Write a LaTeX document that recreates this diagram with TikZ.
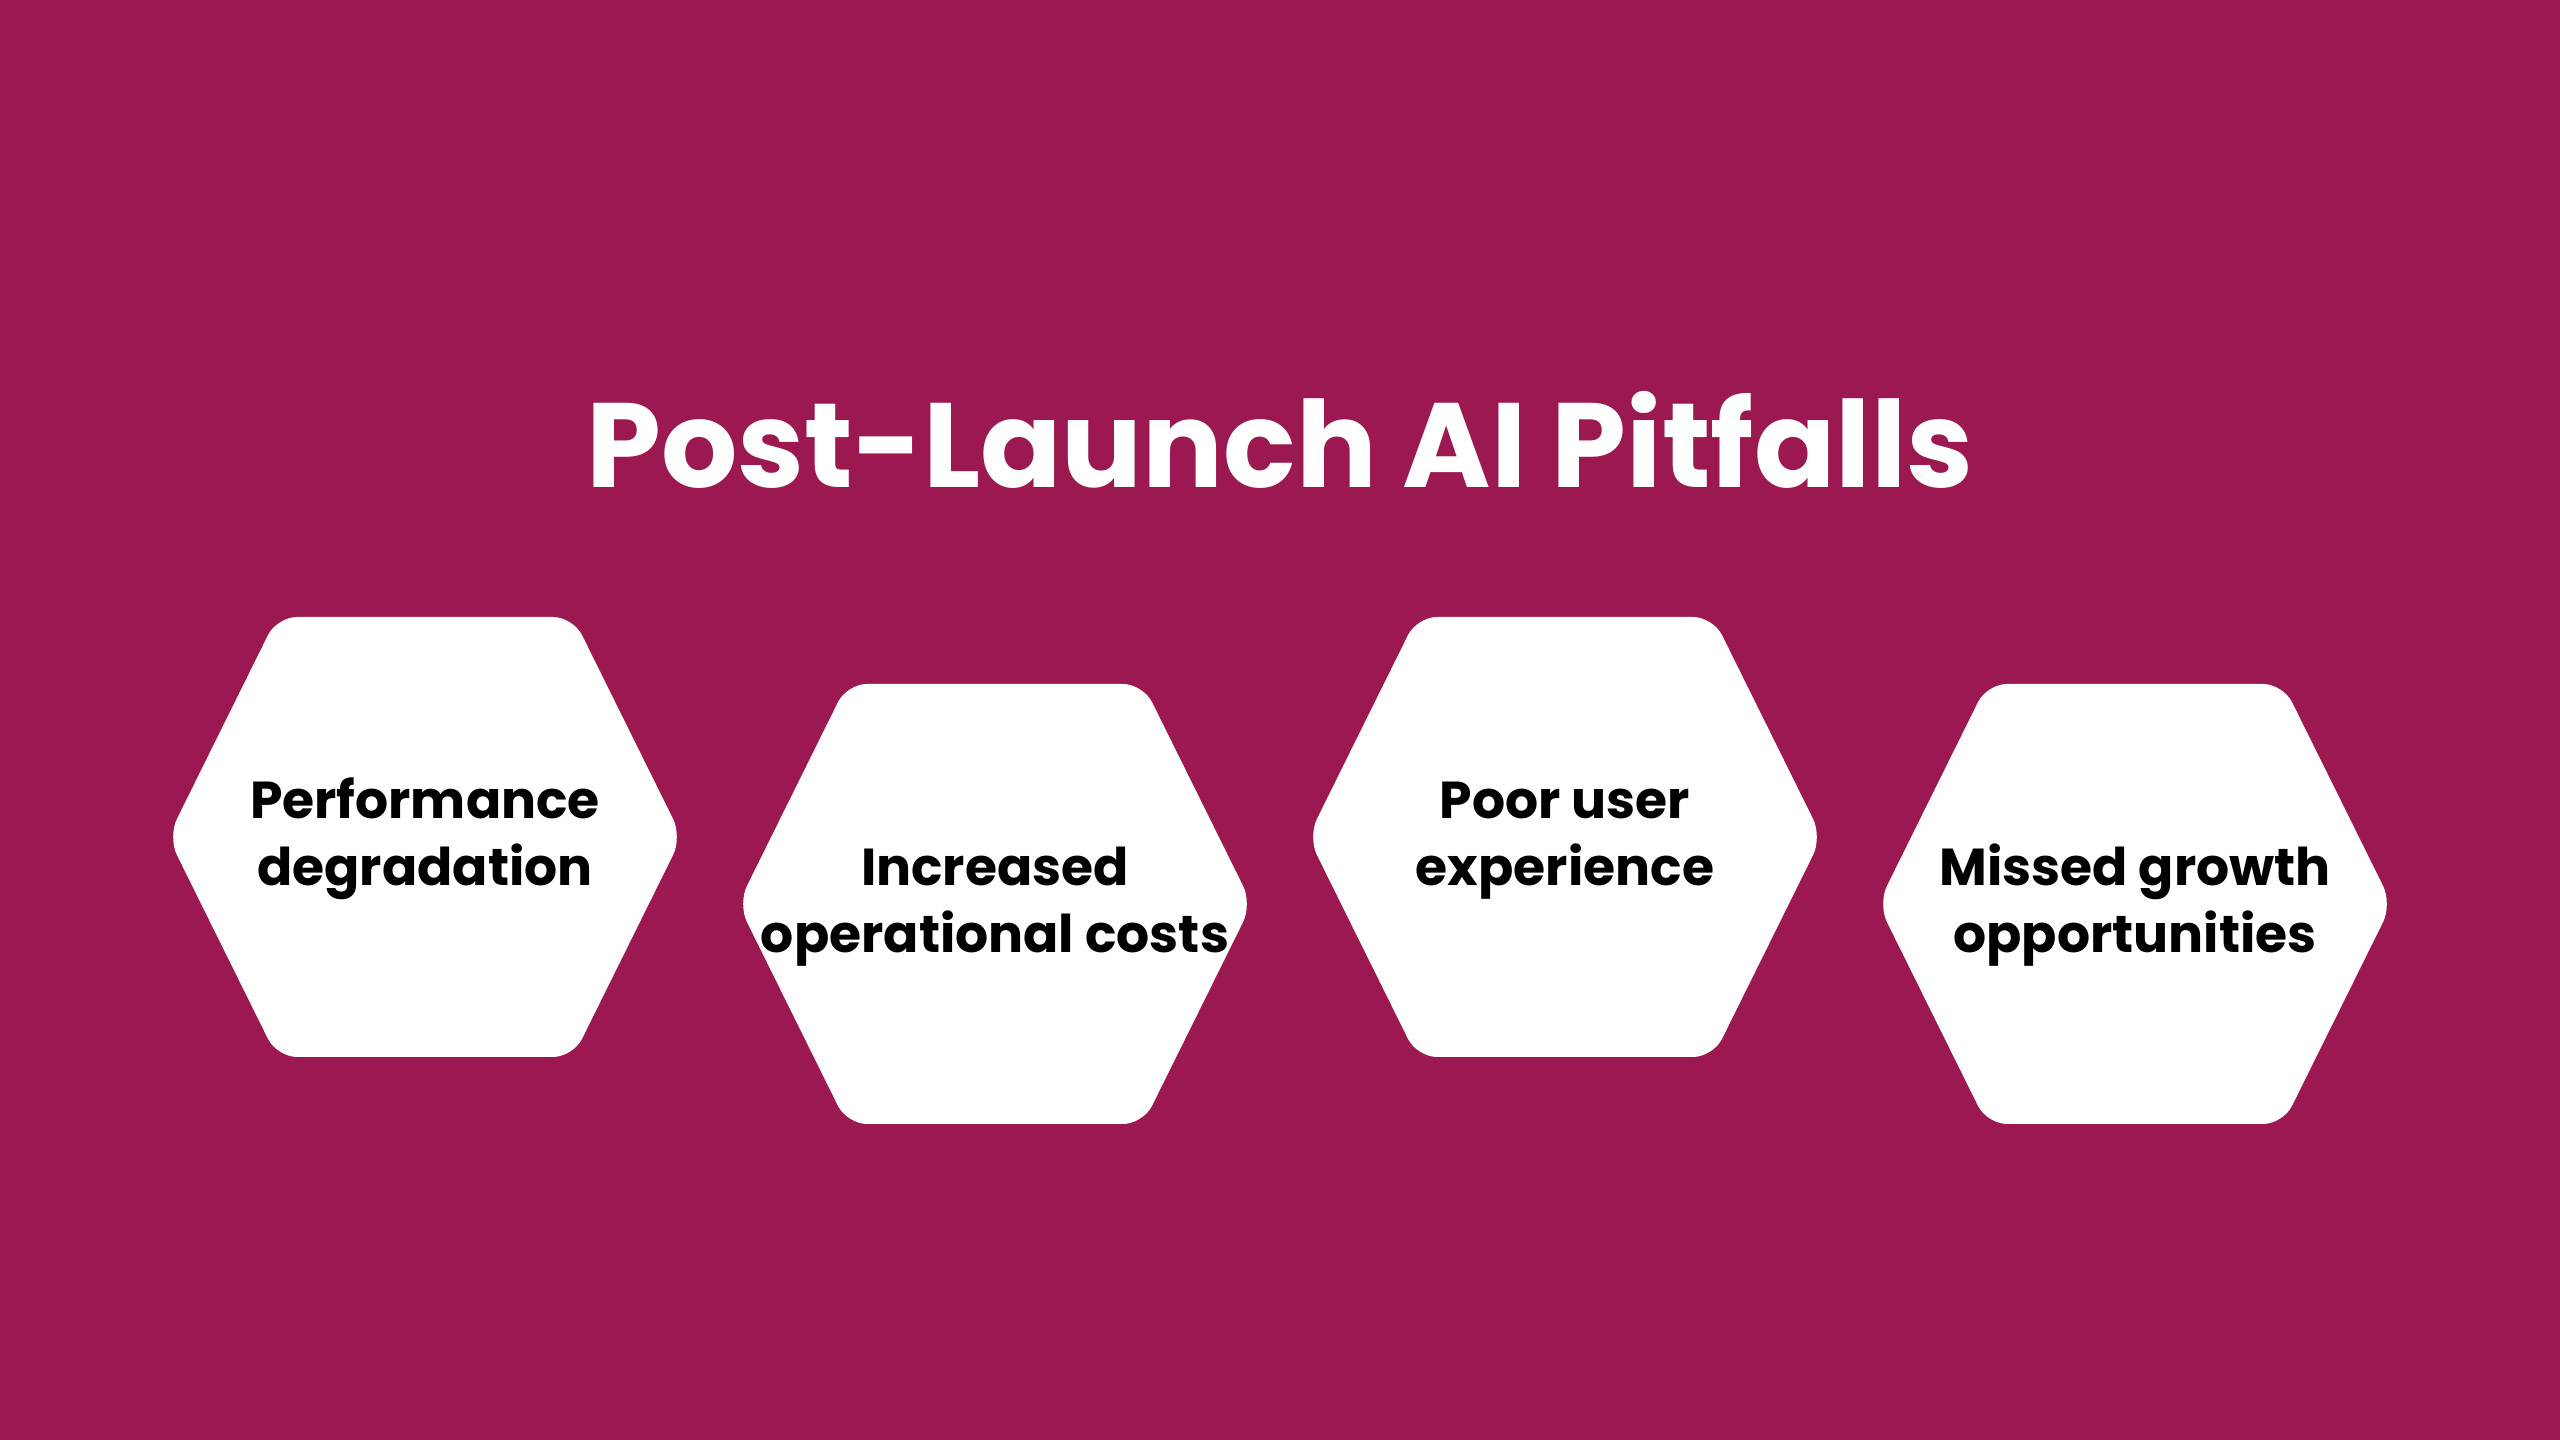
\documentclass[tikz,border=0pt]{standalone}
\usepackage{fontspec}
\setmainfont{Poppins}
\usepackage{tikz}
\definecolor{bgcol}{HTML}{9B1850}

\begin{document}
\begin{tikzpicture}[x=1pt,y=1pt,
	hexa/.style={fill=white,rounded corners=20pt},
	title/.style={text=white,font=\fontsize{120}{144}\selectfont\bfseries,inner sep=0pt,anchor=base},
	hextext/.style={text=black,align=center,font=\fontsize{52}{67.5}\selectfont\bfseries,inner sep=0pt,anchor=base},
	]
	\fill[bgcol] (0,0) rectangle (2560,1440);
	\useasboundingbox (0,0) rectangle (2560,1440);
	\node[title] (T) at (1280,952) {Post-Launch AI Pitfalls};
	% hexagon centres
	\coordinate (h1) at (425,603);
	\coordinate (h2) at (995,536);
	\coordinate (h3) at (1565,603);
	\coordinate (h4) at (2135,536);
	\fill[hexa] ([xshift=-257pt]h1) -- ++(109,220) -- ++(296,0) -- ++(109,-220) -- ++(-109,-220) -- ++(-296,0) -- cycle;
	\fill[hexa] ([xshift=-257pt]h2) -- ++(109,220) -- ++(296,0) -- ++(109,-220) -- ++(-109,-220) -- ++(-296,0) -- cycle;
	\fill[hexa] ([xshift=-257pt]h3) -- ++(109,220) -- ++(296,0) -- ++(109,-220) -- ++(-109,-220) -- ++(-296,0) -- cycle;
	\fill[hexa] ([xshift=-257pt]h4) -- ++(109,220) -- ++(296,0) -- ++(109,-220) -- ++(-109,-220) -- ++(-296,0) -- cycle;
	\node[hextext] (perf) at ([yshift=-49pt]h1) {Performance\\degradation};
	\node[hextext] (cost) at ([yshift=-49pt]h2) {Increased\\operational costs};
	\node[hextext] (ux) at ([yshift=-49pt]h3) {Poor user\\experience};
	\node[hextext] (growth) at ([yshift=-49pt]h4) {Missed growth\\opportunities};
\end{tikzpicture}
\end{document}
